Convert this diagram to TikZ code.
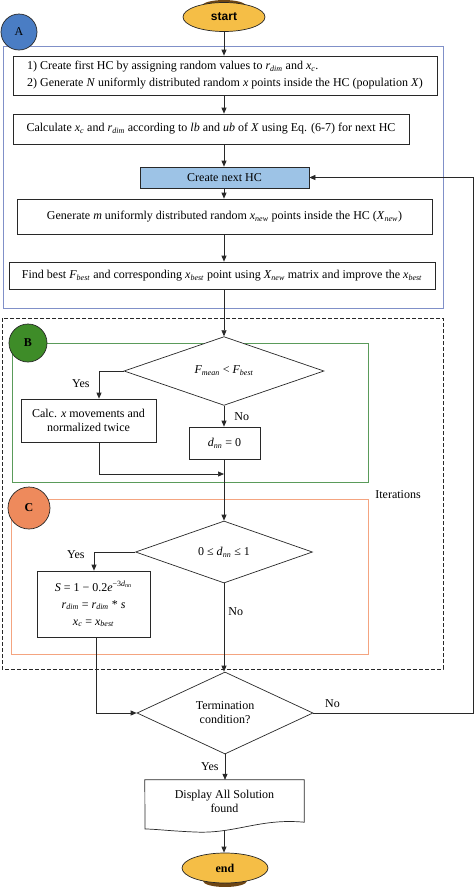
\documentclass[tikz,border=0pt]{standalone}
\usepackage{fontspec}
\setmainfont{Liberation Serif}
\newfontfamily\startfont{Liberation Sans}
\usetikzlibrary{shapes.geometric,arrows.meta}

\definecolor{frameA}{RGB}{128,144,200}
\definecolor{frameB}{RGB}{90,155,90}
\definecolor{frameC}{RGB}{244,164,128}
\definecolor{fillA}{RGB}{74,125,196}
\definecolor{fillB}{RGB}{62,140,40}
\definecolor{fillC}{RGB}{238,138,92}
\definecolor{fillHC}{RGB}{157,195,230}
\definecolor{termfill}{RGB}{245,190,70}
\definecolor{termshade}{RGB}{110,70,20}
\definecolor{linec}{RGB}{40,40,40}

% italic symbol with italic index
\newcommand{\vs}[2]{\textit{#1}\textsubscript{\textit{#2}}}

\tikzset{
  line/.style={draw=linec, line width=0.7pt},
  arr/.style={line, -{Triangle[length=6pt,width=5pt]}},
  box/.style={line, fill=white, rectangle, inner sep=2pt, align=center},
  decision/.style={line, fill=white, diamond, inner sep=0pt, align=center},
  term/.style={draw=black!85, line width=0.7pt, fill=termfill, ellipse, inner sep=0pt},
  tag/.style={draw=black!85, line width=0.7pt, circle, inner sep=0pt},
  lbl/.style={inner sep=2pt}
}

\begin{document}
\begin{tikzpicture}[x=1pt,y=-1pt,font=\fontsize{12}{14}\selectfont]
    \useasboundingbox (0,0) rectangle (474,887);
    \coordinate (ax) at (224,0);
    \coordinate (back) at (473,0);

    % group frames
    \draw[frameA, line width=0.8pt] (3,46) rectangle (443,308);
    \draw[linec, line width=0.7pt, dash pattern=on 4pt off 2pt] (2,318) rectangle (443,669);
    \draw[frameB, line width=0.8pt] (12,343) rectangle (368,482);
    \draw[frameC, line width=0.8pt] (11,499) rectangle (368,654);
    \node[lbl] (iter) at (398,495) {Iterations};

    % tags
    \node[tag, fill=fillA, minimum size=36pt] (tagA) at (19,32) {A};
    \node[tag, fill=fillB, minimum size=38pt] (tagB) at (28,343) {\bfseries B};
    \node[tag, fill=fillC, minimum size=42pt] (tagC) at (29,508) {\bfseries C};

    % part A
    \fill[termshade] (224,6) ellipse (22pt and 6pt);
    \node[term, minimum width=82pt, minimum height=29pt] (start) at (224,17) {\startfont\bfseries start};
    \node[box, align=left, minimum width=424pt, minimum height=39pt] (init) at (225,75.5)
        {1) Create first HC by assigning random values to \vs{r}{dim} and \vs{x}{c}.\\[3pt]
         2) Generate \textit{N} uniformly distributed random \textit{x} points inside the HC (population \textit{X})};
    \node[box, minimum width=396pt, minimum height=30pt] (calcxc) at (211,129)
        {Calculate \vs{x}{c} and \vs{r}{dim} according to \textit{lb} and \textit{ub} of \textit{X} using Eq. (6-7) for next HC};
    \node[box, fill=fillHC, minimum width=169pt, minimum height=21pt] (nexthc) at (224.5,177.5) {Create next HC};
    \node[box, minimum width=415pt, minimum height=35pt] (gen) at (224.5,216.5)
        {Generate \textit{m} uniformly distributed random \vs{x}{new} points inside the HC (\vs{X}{new})};
    \node[box, minimum width=426pt, minimum height=27pt] (best) at (222,275.5)
        {Find best \vs{F}{best} and corresponding \vs{x}{best} point using \vs{X}{new} matrix and improve the \vs{x}{best}};

    % part B
    \node[decision, minimum width=200pt, minimum height=48pt] (fmean) at (224,371) {\vs{F}{mean} < \vs{F}{best}};
    \node[box, minimum width=135pt, minimum height=43pt] (move) at (88.5,420.5) {Calc. \textit{x} movements and\\normalized twice};
    \node[box, minimum width=71pt, minimum height=32pt] (dzero) at (224.5,443) {\vs{d}{nn} = 0};
    \coordinate (joinB) at (224,474);

    % part C
    \node[decision, minimum width=177pt, minimum height=62pt] (drange) at (224,552) {0 ≤ \vs{d}{nn} ≤ 1};
    \node[box, minimum width=113pt, minimum height=66pt] (shrink) at (93.5,604)
        {\textit{S} = 1 − 0.2\textit{e}\textsuperscript{−3\textit{d}\textsubscript{\textit{nn}}}\\[3pt]
         \vs{r}{dim} = \vs{r}{dim} * \textit{s}\\[3pt]
         \vs{x}{c} = \vs{x}{best}};

    % end part
    \node[decision, minimum width=176pt, minimum height=82pt] (stop) at (225,713) {Termination\\condition?};
    \node[align=center, minimum width=159pt, minimum height=42pt, inner sep=0pt] (disp) at (224.5,801)
        {Display All Solution\\found};
    \draw[line] (disp.north west) -- (disp.north east) -- (disp.south east)
        .. controls (260,818) and (235,834) .. (195,832)
        .. controls (170,831) and (155,829) .. (145,829) -- cycle;
    \coordinate (dispb) at (224,830);
    \fill[termshade] (225,881) ellipse (22pt and 6pt);
    \node[term, minimum width=86pt, minimum height=30pt] (end) at (225,868) {\bfseries end};

    % connectors
    \draw[arr] (start.south) -- (init.north -| start.south);
    \draw[arr] (init.south -| ax) -- (calcxc.north -| ax);
    \draw[arr] (calcxc.south -| ax) -- (nexthc.north -| ax);
    \draw[arr] (nexthc.south -| ax) -- (gen.north -| ax);
    \draw[arr] (gen.south -| ax) -- (best.north -| ax);
    \draw[arr] (best.south -| ax) -- (fmean.north);
    \draw[arr] (fmean.west) -| node[lbl, pos=0.72, left=7pt] {Yes} (move.north -| 99,0);
    \draw[arr] (fmean.south) -- node[lbl, midway, right=8pt] {No} (dzero.north -| fmean.south);
    \draw[arr] (move.south -| 99,0) |- (joinB);
    \draw[arr] (dzero.south -| ax) -- (drange.north);
    \draw[arr] (drange.west) -| node[lbl, pos=0.56, left=7pt] {Yes} (shrink.north -| 94,0);
    \draw[arr] (drange.south) -- node[lbl, pos=0.32, right=2pt] {No} (stop.north -| drange.south);
    \draw[arr] (shrink.south -| 96,0) |- (stop.west);
    \draw[arr] (stop.east) -- node[lbl, pos=0.12, above=3pt] {No} (stop.east -| back) |- (nexthc.east);
    \draw[arr] (stop.south) -- node[lbl, midway, left=4pt] {Yes} (disp.north -| stop.south);
    \draw[arr] (dispb) -- (end.north -| dispb);
\end{tikzpicture}
\end{document}
